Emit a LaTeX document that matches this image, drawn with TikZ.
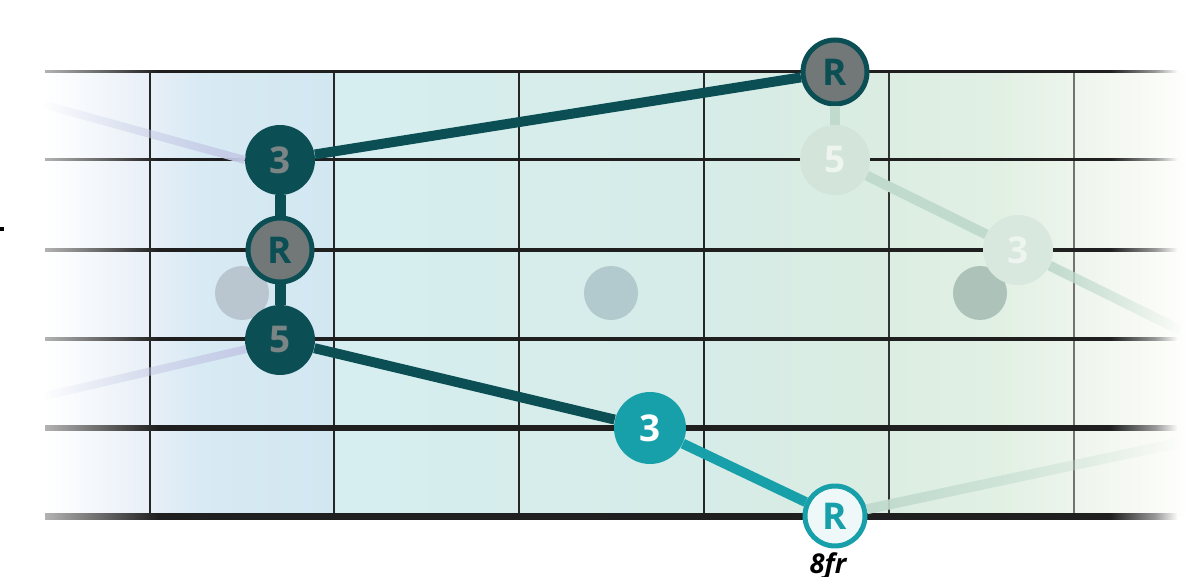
\documentclass[tikz,border=0pt]{standalone}
\usepackage{fontspec}
\setmainfont{Open Sans}
\usetikzlibrary{fadings}

\definecolor{darkteal}{HTML}{0B4F55}
\definecolor{notegray}{HTML}{7C8585}
\definecolor{rootgray}{HTML}{727878}
\definecolor{ghostfive}{HTML}{D3E5DB}
\definecolor{ghostthree}{HTML}{D9E8DF}
\definecolor{ghostline}{HTML}{C0DACD}
\definecolor{ghosttext}{HTML}{EEF5F0}
\definecolor{brightteal}{HTML}{17A0AA}
\definecolor{openfill}{HTML}{EEF8F8}
\definecolor{lavender}{HTML}{C5CAE6}
\definecolor{dotL}{HTML}{B9C6D0}
\definecolor{dotM}{HTML}{B2C9CD}
\definecolor{dotR}{HTML}{ADC2B9}
\definecolor{neckA}{HTML}{E8EFF7}
\definecolor{neckB}{HTML}{D8EAF4}
\definecolor{neckC}{HTML}{D2E7F1}
\definecolor{neckD}{HTML}{D6EEF0}
\definecolor{neckE}{HTML}{D6ECE8}
\definecolor{neckF}{HTML}{DBEDE2}
\definecolor{neckG}{HTML}{E2F0E4}
\definecolor{neckH}{HTML}{EEF5EC}
\definecolor{neckI}{HTML}{FAFCF7}

\pgfdeclarehorizontalshading{neckshade}{100bp}{color(0bp)=(white); color(25bp)=(white);
  color(26.9bp)=(white); color(31.25bp)=(neckA); color(33.3bp)=(neckB);
  color(38.9bp)=(neckC); color(39.0bp)=(neckD); color(54.2bp)=(neckE);
  color(61.7bp)=(neckF); color(66.7bp)=(neckG); color(70bp)=(neckH);
  color(73.3bp)=(neckI); color(74.6bp)=(white); color(100bp)=(white)}
\pgfdeclarehorizontalshading{stringshade}{100bp}{color(0bp)=(black!30); color(25bp)=(black!30);
  color(30bp)=(black!88); color(72bp)=(black!88); color(74bp)=(black!40);
  color(75bp)=(white); color(100bp)=(white)}
\tikzfading[name=tailfade, left color=transparent!0, middle color=transparent!0, right color=transparent!100]

\newcommand\notefont{\fontsize{21}{21}\selectfont\bfseries}

\tikzset{
  darknote/.style={fill=darkteal,text=notegray,minimum size=1.4cm},
  rootnote/.style={fill=rootgray,draw=darkteal,line width=0.1cm,text=darkteal,minimum size=1.28cm},
  ghostnote/.style={text=ghosttext,minimum size=1.4cm},
  tealnote/.style={fill=brightteal,text=white,minimum size=1.44cm},
  openroot/.style={fill=openfill,draw=brightteal,line width=0.1cm,text=brightteal,minimum size=1.2cm}
}

\begin{document}
\begin{tikzpicture}[x=0.02cm,y=-0.02cm]
  \useasboundingbox (0,0) rectangle (1200,577);
  % neck
  \shade[shading=neckshade] (0,72) rectangle (1200,516);
  \foreach \x/\c in {150/85,334/85,519/85,704/85,889/80,1074/55}
    \draw[line width=0.04cm,black!\c] (\x,72) -- (\x,516);
  \foreach \y/\w in {72/2,160/2,250/2.5,339/3.5,428/4.5,516/6}
    \shade[shading=stringshade] (45,\y-\w/2) rectangle (1178,\y+\w/2);
  \fill (0,227) rectangle (4,231);

  \begin{scope}[every node/.style={circle,inner sep=0pt,minimum size=1.08cm}]
    \node[fill=dotL] (m1) at (242,293) {};
    \node[fill=dotM] (m2) at (611,293) {};
    \node[fill=dotR] (m3) at (980,293) {};
  \end{scope}

  \begin{scope}[every node/.style={circle,inner sep=0pt,font=\notefont}]
    \node[darknote] (a3) at (280,160) {3};
    \node[rootnote] (aR) at (280,250) {R};
    \node[darknote] (a5) at (280,340) {5};
    \node[rootnote] (bR) at (835,72) {R};
    \node[ghostnote,fill=ghostfive] (b5) at (835,160) {5};
    \node[ghostnote,fill=ghostthree] (b3) at (1018,250) {3};
    \node[tealnote] (c3) at (650,428) {3};
    \node[openroot] (cR) at (835,516) {R};
  \end{scope}

  \coordinate (l1) at (45,105);
  \coordinate (l2) at (45,396);
  \coordinate (t1) at (1180,330);
  \coordinate (t2) at (1178,443);

  \begin{scope}[every edge/.style={draw,line width=0.2cm}]
    \path (a3) edge[darkteal] (bR);
    \path (a3) edge[darkteal,line width=0.22cm] (aR);
    \path (aR) edge[darkteal,line width=0.22cm] (a5);
    \path (a5) edge[darkteal] (c3);
    \path (c3) edge[brightteal] (cR);
    \path (bR) edge[ghostline] (b5);
    \path (b5) edge[ghostline] (b3);
    \path (b3) edge[ghostline,path fading=tailfade] (t1);
    \path (cR) edge[ghostline,path fading=east] (t2);
    \path (l1) edge[lavender,line width=0.16cm,path fading=west] (a3.180);
    \path (l2) edge[lavender,line width=0.16cm,path fading=west] (a5.195);
  \end{scope}

  \node[font=\fontsize{15.5}{16}\selectfont\bfseries\itshape,anchor=base] (fr) at (828,573) {8fr};
\end{tikzpicture}
\end{document}
